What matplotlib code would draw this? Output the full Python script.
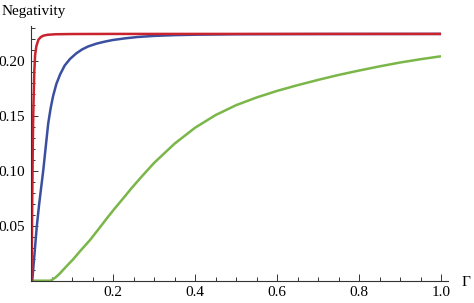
import matplotlib.pyplot as plt
from matplotlib.ticker import MultipleLocator, FixedLocator

# curves
red_x = [0.001, 0.002, 0.003, 0.004, 0.005, 0.006, 0.008, 0.01, 0.013, 0.018,
         0.024, 0.03, 0.04, 0.06, 0.1, 0.2, 0.5, 1.0]
red_y = [0.0, 0.03, 0.07, 0.11, 0.14, 0.16, 0.19, 0.205, 0.213, 0.219,
         0.2215, 0.2227, 0.2235, 0.224, 0.2242, 0.2243, 0.2243, 0.2243]

blue_x = [0.003, 0.008, 0.014, 0.02, 0.03, 0.036, 0.042, 0.048, 0.054, 0.062,
          0.071, 0.082, 0.095, 0.11, 0.125, 0.14, 0.16, 0.18, 0.2, 0.23,
          0.26, 0.3, 0.35, 0.4, 0.5, 0.7, 1.0]
blue_y = [0.0, 0.022, 0.049, 0.070, 0.1006, 0.122, 0.143, 0.157, 0.168, 0.179,
          0.1875, 0.1955, 0.2015, 0.2065, 0.2103, 0.213, 0.2155, 0.2173, 0.2188, 0.2203,
          0.2215, 0.2225, 0.2232, 0.2236, 0.224, 0.2242, 0.2243]

green_x = [0.0, 0.046, 0.05, 0.06, 0.0707, 0.08, 0.09, 0.103, 0.12, 0.144,
           0.165, 0.185, 0.205, 0.225, 0.245, 0.266, 0.283, 0.3, 0.35, 0.4,
           0.45, 0.5, 0.55, 0.6, 0.65, 0.7, 0.75, 0.8, 0.85, 0.9,
           0.95, 1.0]
green_y = [0.0, 0.0, 0.0005, 0.003, 0.0067, 0.0105, 0.0145, 0.0195, 0.027, 0.037,
           0.047, 0.0567, 0.066, 0.0749, 0.084, 0.093, 0.1, 0.107, 0.1245, 0.139,
           0.1505, 0.1595, 0.1665, 0.1725, 0.1777, 0.1825, 0.187, 0.191, 0.1948, 0.1983,
           0.2013, 0.204]

x_ticks = [0.2, 0.4, 0.6, 0.8, 1.0]
y_ticks = [0.05, 0.10, 0.15, 0.20]

plt.rcParams['font.family'] = ['Liberation Serif', 'DejaVu Serif']

fig = plt.figure(figsize=(4.74, 3.03), dpi=100)
ax = fig.add_axes([31 / 474, 22.3 / 303, 417 / 474, 254.7 / 303])

ax.plot(green_x, green_y, color='#7ab648', lw=1.8, solid_capstyle='butt')
ax.plot(blue_x, blue_y, color='#3a4fa0', lw=1.8, solid_capstyle='butt')
ax.plot(red_x, red_y, color='#c9232e', lw=1.8, solid_capstyle='butt')

ax.set_xlim(0, 1.017)
ax.set_ylim(0, 0.2315)

for s in ['top', 'right']:
    ax.spines[s].set_visible(False)
for s in ['left', 'bottom']:
    ax.spines[s].set_linewidth(0.8)
    ax.spines[s].set_color('#333333')

ax.xaxis.set_major_locator(FixedLocator(x_ticks))
ax.yaxis.set_major_locator(FixedLocator(y_ticks))
ax.xaxis.set_minor_locator(MultipleLocator(0.05))
ax.yaxis.set_minor_locator(MultipleLocator(0.01))
ax.set_xticklabels(['%.1f' % v for v in x_ticks])
ax.set_yticklabels(['%.2f' % v for v in y_ticks])
ax.tick_params(which='both', direction='in', labelsize=11, color='#333333', width=0.7)
ax.tick_params(which='major', length=5, pad=4)
ax.tick_params(which='minor', length=3)

fig.text(2 / 474, 1 - 12 / 303, 'Negativity', fontsize=11, va='center', ha='left')
fig.text(462 / 474, 1 - 282 / 303, 'Γ', fontsize=11, va='center', ha='left')

fig.savefig('out.png', dpi=100)
